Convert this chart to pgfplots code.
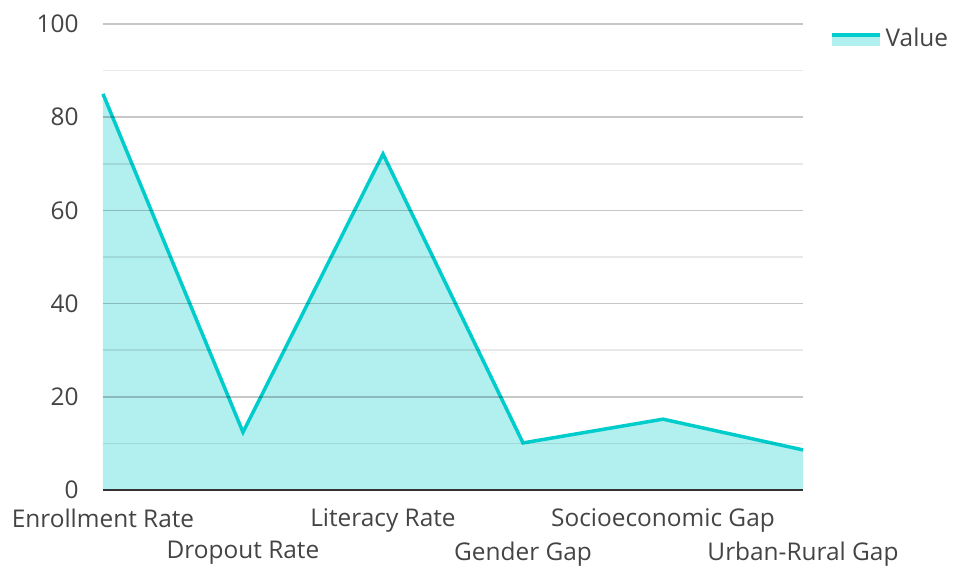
\documentclass[border=0pt]{standalone}
\usepackage{pgfplots}
\pgfplotsset{compat=1.18}
\usepackage{fontspec}
\setmainfont{Open Sans}
\definecolor{tealline}{RGB}{0,204,204}
\definecolor{tealfill}{RGB}{178,239,239}
\definecolor{txt}{RGB}{68,68,68}
\begin{document}
\begin{tikzpicture}
\useasboundingbox (-103bp,-77bp) rectangle (850bp,490bp);
\begin{axis}[
    x=140bp, y=4.66bp,
    xmin=0, xmax=5, ymin=0, ymax=100,
    axis on top,
    axis y line*=left,
    y axis line style={draw=none},
    axis x line*=bottom,
    x axis line style={draw=black!80, line width=2.5bp},
    ytick={0,20,40,60,80,100},
    minor ytick={10,30,50,70,90},
    ymajorgrids, yminorgrids,
    major grid style={black, draw opacity=0.22, line width=1.5bp},
    minor grid style={black, draw opacity=0.09, line width=1.5bp},
    major tick length=0pt, minor tick length=0pt,
    xtick={0,2,4},
    xticklabels={Enrollment Rate, Literacy Rate, Socioeconomic Gap},
    extra x ticks={1,3,5},
    extra x tick labels={Dropout Rate, Gender Gap, Urban-Rural Gap},
    extra x tick style={grid=none, xticklabel style={yshift=-33bp}},
    tick label style={font=\fontsize{24.5}{28}\selectfont, text=txt},
    xticklabel style={yshift=-15bp},
    yticklabel style={xshift=-21bp},
    /pgf/number format/assume math mode=true,
    clip=false,
    legend style={at={(1,1)}, anchor=north west, xshift=27bp, yshift=-2bp,
        draw=none, fill=none, font=\fontsize{24.5}{28}\selectfont, text=txt,
        inner sep=0pt, nodes={inner xsep=4bp}},
    legend cell align=left,
]
\addplot[draw=none, fill=tealfill,
    legend image code/.code={
        \fill[tealfill] (0bp,-8bp) rectangle (48bp,3bp);
        \draw[tealline, line width=3.5bp] (0bp,3bp) -- (48bp,3bp);
    }] coordinates {
    (0,85) (1,12.4) (2,72.1) (3,10.1) (4,15.2) (5,8.6)
} \closedcycle;
\addlegendentry{Value}
\addplot[tealline, line width=3.5bp, forget plot] coordinates {
    (0,85) (1,12.4) (2,72.1) (3,10.1) (4,15.2) (5,8.6)
};
\end{axis}
\end{tikzpicture}
\end{document}
